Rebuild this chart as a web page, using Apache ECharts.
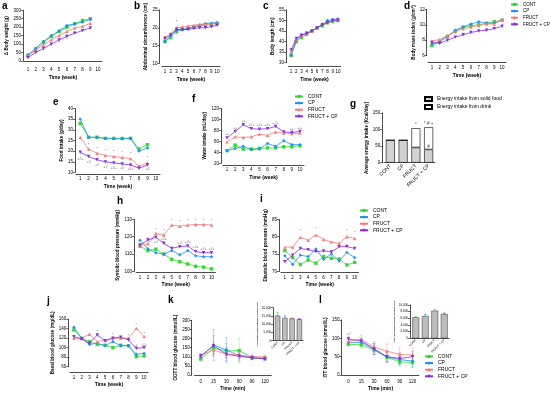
<!DOCTYPE html>
<html><head><meta charset="utf-8">
<script src="https://cdn.jsdelivr.net/npm/echarts@6/dist/echarts.min.js"></script>
<style>html,body{margin:0;padding:0;background:#fff}#c{width:550px;height:393px}</style>
</head><body><div id="c"></div>
<script>
const groups = ['CONT', 'CP', 'FRUCT', 'FRUCT + CP'];
const weeks = ['1','2','3','4','5','6','7','8','9','10'];
const minutes = ['0','15','30','60','90','120'];
const energyNames = ['Energy intake from solid food', 'Energy intake from drink'];

// a  Δ body weight (g)
const bodyWeightGain = [
  [35, 70, 110, 145, 175, 200, 220, 240, 250, null],
  [35, 75, 115, 150, 178, 210, 220, 230, 247, null],
  [30, 65, 95, 125, 150, 175, 195, 205, 223, null],
  [20, 50, 75, 100, 125, 145, 165, 180, 195, null]];
const weightMarks = [[2, 58, '*'], [3, 82, '*'], [4, 106, '*'], [5, 126, '*']];
// b  abdominal circumference (cm)
const abdominal = [
  [16.2, 17.2, 19.0, 19.5, 19.8, 20.3, 20.5, 20.8, 21.0, 21.2],
  [16.0, 17.8, 19.3, 19.5, 19.8, 20.3, 20.7, 21.2, 21.3, 21.5],
  [17.3, 18.3, 20.0, 20.2, 20.5, 20.7, 21.0, 21.0, 21.0, 21.3],
  [17.0, 18.0, 19.5, 19.5, 19.5, 19.8, 20.0, 20.0, 20.3, 20.7]];
const abdominalMarks = [[2, 21.7, '*'], [2, 18.2, '#']];
// c  body length (cm)
const bodyLength = [
  [33.5, 40.0, 42.0, 43.5, 45.0, 46.5, 47.5, 49.0, 49.5, 50.0],
  [33.5, 40.5, 43.0, 44.0, 45.0, 46.5, 48.0, 50.0, 50.5, 50.8],
  [35.0, 41.0, 43.0, 44.0, 45.0, 46.5, 48.5, 49.0, 50.0, 50.5],
  [36.0, 41.5, 43.0, 44.0, 45.0, 46.5, 48.0, 49.0, 50.0, 50.2]];
// d  body mass index
const bmi = [
  [7.3, 7.8, 8.5, 9.2, 9.7, 9.9, 10.0, 10.2, 10.4, 10.6],
  [7.5, 7.9, 8.5, 9.3, 9.7, 10.1, 10.4, 10.2, 10.2, 10.6],
  [7.9, 8.1, 8.6, 9.1, 9.5, 9.7, 9.9, 10.1, 10.1, 10.7],
  [7.7, 7.6, 8.0, 8.4, 8.7, 9.0, 9.2, 9.3, 9.5, 9.8]];
// e  food intake (g/day)
const foodIntake = [
  [33.0, 26.5, 26.5, 26.0, 26.0, 26.0, 26.0, 21.0, 23.0, null],
  [35.0, 26.5, 26.5, 26.0, 25.8, 25.8, 26.0, 20.0, 21.5, null],
  [26.5, 21.0, 19.0, 18.0, 17.5, 17.0, 16.5, 13.0, 14.5, null],
  [19.5, 17.5, 16.0, 15.0, 14.5, 14.0, 13.5, 12.0, 13.5, null]];
const foodMarks = [[1, 23, '*'], [2, 21, '*'], [3, 20, '*'], [4, 19.5, '*'], [5, 19, '*'], [6, 18.5, '*'], [8, 17, '*'],
  [0, 16.3, '+#+'], [1, 15, '+#'], [2, 13.6, '+#'], [3, 12.8, '+#'], [4, 12.2, '+#+'], [5, 12, '+#'], [6, 11.5, '+#+'], [8, 11.5, '+#']];
// f  water intake (mL/day)
const waterIntake = [
  [43, 53, 46, 46, 47, 48, 48, 50, 50, 52],
  [43, 47, 51, 45, 46, 56, 51, 61, 54, 54],
  [59, 68, 67, 68, 73, 71, 77, 75, 74, 75],
  [66, 78, 90, 83, 82, 83, 87, 77, 76, 78]];
const waterMarks = [[0, 73, '++'], [1, 85, '++'], [2, 97, '++'], [3, 90, '+#+'], [4, 89, '+#+'], [5, 90, '+#+'],
  [6, 94, '+#+'], [8, 83, '++'], [9, 85, '++']];
// g  average energy intake (Kcal/day)
const energySolid = [68, 68, 46, 40];
const energyDrink = [0, 0, 58, 67];
const energyMarks = [[2, 113, '*'], [3, 116, '* # +'], [3, 47, '#']];
// h  systolic blood pressure (mmHg)
const systolic = [
  [114.5, 112.0, 112.8, 110.0, 107.0, 105.6, 104.3, 103.0, 102.5, 101.5],
  [118.0, 113.0, 110.8, 110.0, 112.0, 109.6, 112.0, 109.0, 108.5, 108.5],
  [115.0, 116.0, 121.8, 121.0, 126.7, 126.0, 126.7, 127.0, 127.0, 126.7],
  [115.2, 118.1, 119.6, 116.2, 113.3, 114.3, 114.7, 111.4, 110.8, 110.8]];
const systolicMarks = [[1, 118.5, '*'], [2, 124, '*'], [3, 123.3, '*'], [4, 129, '*'], [5, 128.4, '*'], [6, 129, '*'],
  [7, 129.3, '*'], [8, 129.3, '*'], [9, 129, '*'],
  [2, 117, '+#'], [3, 118.5, '+#+'], [5, 116.6, '+#'], [6, 117, '+#+'], [7, 113.8, '+#+'], [8, 113.2, '+#+'], [9, 113, '+#+']];
// i  diastolic blood pressure (mmHg)
const diastolic = [
  [76.0, 74.0, 72.0, 73.3, 72.4, 74.3, 73.8, 73.6, 71.9, 72.6],
  [74.5, 72.0, 74.7, 74.3, 76.5, 73.5, 75.0, 73.0, 75.5, 74.0],
  [77.0, 77.0, 79.8, 79.0, 80.5, 79.2, 78.5, 78.1, 80.0, 79.5],
  [72.8, 74.7, 76.6, 76.3, 75.7, 75.9, 75.6, 77.1, 77.2, 76.6]];
const diastolicMarks = [[2, 81.5, '*'], [4, 82.2, '*'], [8, 81.7, '*'], [9, 81.2, '*']];
// j  basal blood glucose (mg/dL)
const basalGlucose = [
  [137, 119.5, 112.4, 107, 105, 100, 105, 104, 81, 82.6],
  [142.6, 119.5, 107, 109, 104, 112.4, 104, 104, 86, 88],
  [119.5, 120, 128, 112.4, 116, 120, 119.5, 120, 140.4, 123],
  [123, 118, 109, 126.5, 114, 120, 122, 116, 98.5, 100]];
const glucoseMarks = [[3, 132, '*'], [5, 126, '*'], [7, 125, '*'], [8, 147, '*'], [9, 129, '*'], [8, 104, '#'], [9, 106, '+#+']];
// k  OGTT blood glucose (mmol/L)
const ogtt = [
  [88, 147, 132, 134, 95, 92],
  [100, 165, 137, 106, 93, 90],
  [108, 137, 114, 110, 100, 100],
  [104, 160, 114, 103, 95, 88]];
const ogttErr = [
  [8, 30, 40, 68, 10, 8],
  [10, 85, 68, 30, 10, 8],
  [10, 20, 20, 15, 15, 10],
  [10, 55, 35, 15, 10, 8]];
const ogttAuc = [15200, 13800, 13500, 13000];
const ogttAucErr = [2000, 1200, 300, 400];
// l  ITT blood glucose (mmol/L)
const itt = [
  [84, 82, 68, 48, 36, 34],
  [89, 89, 70, 50, 42, 38],
  [92, 97, 76, 65, 56, 54],
  [98, 93, 71, 50, 45, 50]];
const ittErr = [
  [5, 8, 12, 12, 12, 10],
  [6, 8, 15, 15, 15, 18],
  [8, 12, 15, 20, 20, 20],
  [6, 8, 15, 15, 15, 15]];
const ittMarks = [[0, 111, '+#']];
const ittAuc = [6300, 6700, 8300, 7300];
const ittAucErr = [300, 500, 400, 300];

const colors = ['#35d835', '#1f8ff0', '#f47c7c', '#8a2be2'];
const lightColors = ['rgba(53,216,53,0.5)', 'rgba(31,143,240,0.5)', 'rgba(244,124,124,0.55)', 'rgba(138,43,226,0.5)'];
const symbols = ['rect', 'diamond', 'triangle', 'triangle'];
const FONT = 'Liberation Sans, Arial, sans-serif';

const grids = [], xAxes = [], yAxes = [], series = [];
function addPanel(p) {
  const gi = grids.length;
  grids.push({ left: p.left, top: p.top, width: p.width, height: p.height });
  xAxes.push({
    type: 'category', gridIndex: gi, data: p.cats, boundaryGap: true, offset: p.xoff || 0,
    name: p.xname || '', nameLocation: 'middle', nameGap: p.xgap || 10,
    nameTextStyle: { fontSize: 5, fontWeight: 'bold', color: '#000', fontFamily: FONT },
    axisLine: { lineStyle: { color: '#000', width: 0.7 } },
    axisTick: { alignWithLabel: true, length: 2, lineStyle: { color: '#000', width: 0.6 } },
    axisLabel: { fontSize: p.xfs || 4.5, color: '#000', margin: p.xmargin || 2.5, rotate: p.rotate || 0, interval: 0, fontFamily: FONT },
    splitLine: { show: false }
  });
  yAxes.push({
    type: 'value', gridIndex: gi, min: p.ymin, max: p.ymax, interval: p.yint, offset: p.yoff || 0,
    name: p.yname || '', nameLocation: 'middle', nameGap: p.ygap || 10, nameRotate: 90,
    nameTextStyle: { fontSize: p.ynfs || 4.6, fontWeight: 'bold', color: '#000', fontFamily: FONT },
    axisLine: { show: true, lineStyle: { color: '#000', width: 0.7 } },
    axisTick: { show: true, length: 2, lineStyle: { color: '#000', width: 0.6 } },
    axisLabel: { fontSize: p.yfs || 4.5, color: '#000', margin: 2, formatter: p.yfmt, fontFamily: FONT },
    splitLine: { show: false }
  });
  return gi;
}
function errSeries(gi, vals, errs, color, w) {
  const data = [];
  vals.forEach((v, i) => { if (v != null && errs) data.push([i, v - errs[i], v + errs[i]]); });
  return {
    type: 'custom', xAxisIndex: gi, yAxisIndex: gi, silent: true, z: 1, data,
    encode: { x: 0, y: [1, 2] },
    renderItem(params, api) {
      const x = api.value(0);
      const lo = api.coord([x, api.value(1)]);
      const hi = api.coord([x, api.value(2)]);
      const hw = w || 1.5;
      const st = { stroke: color, lineWidth: 0.6 };
      return { type: 'group', children: [
        { type: 'line', shape: { x1: lo[0], y1: lo[1], x2: hi[0], y2: hi[1] }, style: st },
        { type: 'line', shape: { x1: hi[0] - hw, y1: hi[1], x2: hi[0] + hw, y2: hi[1] }, style: st },
        { type: 'line', shape: { x1: lo[0] - hw, y1: lo[1], x2: lo[0] + hw, y2: lo[1] }, style: st }
      ]};
    }
  };
}
function addLines(gi, data, errs) {
  data.forEach((d, k) => {
    series.push({
      type: 'line', name: groups[k], xAxisIndex: gi, yAxisIndex: gi, data: d,
      symbol: symbols[k], symbolSize: 3.4, symbolRotate: k === 3 ? 180 : 0,
      lineStyle: { width: 0.8, color: colors[k] }, itemStyle: { color: colors[k] },
      z: 3 + k, animation: false
    });
    if (errs) series.push(errSeries(gi, d, errs[k], lightColors[k]));
  });
}
function addAucBars(gi, vals, errs) {
  series.push({
    type: 'bar', xAxisIndex: gi, yAxisIndex: gi, barWidth: '72%',
    data: vals.map((v, i) => ({ value: v })),
    itemStyle: { color: '#bdbdbd', borderColor: '#333', borderWidth: 0.5 }, animation: false
  });
  vals.forEach((v, i) => {
    const e = vals.map((_, j) => j === i ? errs[j] : null);
    const vv = vals.map((x, j) => j === i ? x : null);
    series.push(errSeries(gi, vv, e, colors[i], 1.3));
  });
}
function addMarks(gi, marks, fs) {
  series.push({
    type: 'scatter', xAxisIndex: gi, yAxisIndex: gi, symbolSize: 0, silent: true, z: 10,
    data: marks.map(m => ({ value: [m[0], m[1]], label: { formatter: m[2] } })),
    label: { show: true, position: 'inside', fontSize: fs || 3.6, color: '#222', fontFamily: FONT }
  });
}
const commaFmt = v => v.toLocaleString('en-US');

// a
let g = addPanel({ left: 24, top: 10.3, width: 78, height: 50.7, cats: weeks, ymin: 0, ymax: 300, yint: 50,
  yname: 'Δ Body weight (g)', xname: 'Time (week)', xoff: 4, yoff: 1, ygap: 11 });
addLines(g, bodyWeightGain);
addMarks(g, weightMarks);
// b
g = addPanel({ left: 162, top: 10, width: 58, height: 53.3, cats: weeks, ymin: 10, ymax: 25, yint: 5,
  yname: 'Abdominal circumference (cm)', xname: 'Time (week)', xoff: 3.4, yoff: 2.5, ygap: 9 });
addLines(g, abdominal);
addMarks(g, abdominalMarks);
// c
g = addPanel({ left: 288.5, top: 10, width: 52, height: 52.7, cats: weeks, ymin: 30, ymax: 55, yint: 5,
  yname: 'Body length (cm)', xname: 'Time (week)', xoff: 4, yoff: 2.4, ygap: 9 });
addLines(g, bodyLength);
// d
g = addPanel({ left: 428, top: 9.3, width: 78, height: 46.4, cats: weeks, ymin: 6, ymax: 12, yint: 2,
  yname: 'Body mass index (g/cm²)', xname: 'Time (week)', xoff: 7, yoff: 1.3, ygap: 8 });
addLines(g, bmi);
// e
g = addPanel({ left: 76, top: 108.5, width: 84, height: 64, cats: weeks, ymin: 10, ymax: 40, yint: 5,
  yname: 'Food intake (g/day)', xname: 'Time (week)', xoff: 1.5, yoff: 1, ygap: 8 });
addLines(g, foodIntake);
addMarks(g, foodMarks);
// f
g = addPanel({ left: 223, top: 108.3, width: 81, height: 55, cats: weeks, ymin: 20, ymax: 120, yint: 20,
  yname: 'Water intake (mL/day)', xname: 'Time (week)', xoff: 1.5, yoff: 2, ygap: 10 });
addLines(g, waterIntake);
addMarks(g, waterMarks);
// g
g = addPanel({ left: 384, top: 113, width: 51, height: 49.7, cats: groups, ymin: 0, ymax: 150, yint: 50,
  yname: 'Average energy intake (Kcal/day)', xname: '', rotate: 45, xfs: 5, yoff: 1.7, ygap: 10 });
series.push({ type: 'bar', name: energyNames[0], stack: 'e', xAxisIndex: g, yAxisIndex: g, barWidth: 9, data: energySolid,
  itemStyle: { color: '#d2d2d2', borderColor: '#000', borderWidth: 0.6 }, animation: false });
series.push({ type: 'bar', name: energyNames[1], stack: 'e', xAxisIndex: g, yAxisIndex: g, barWidth: 9, data: energyDrink,
  itemStyle: { color: '#ffffff', borderColor: '#000', borderWidth: 0.6 }, animation: false });
addMarks(g, energyMarks, 4.5);
// h
g = addPanel({ left: 136, top: 219.3, width: 79.5, height: 52.2, cats: weeks, ymin: 100, ymax: 130, yint: 10,
  yname: 'Systolic blood pressure (mmHg)', xname: 'Time (week)', xoff: 1, yoff: 2, ygap: 10 });
addLines(g, systolic);
addMarks(g, systolicMarks);
// i
g = addPanel({ left: 281, top: 219.3, width: 77.5, height: 52.2, cats: weeks, ymin: 70, ymax: 85, yint: 5,
  yname: 'Diastolic blood pressure (mmHg)', xname: 'Time (week)', xoff: 1, yoff: 2, ygap: 8 });
addLines(g, diastolic);
addMarks(g, diastolicMarks);
// j
g = addPanel({ left: 70, top: 319, width: 78, height: 47.7, cats: weeks, ymin: 60, ymax: 160, yint: 20,
  yname: 'Basal blood glucose (mg/dL)', xname: 'Time (week)', xoff: 5.6, yoff: 1.7, ygap: 10 });
addLines(g, basalGlucose);
addMarks(g, glucoseMarks);
// k
g = addPanel({ left: 194.3, top: 320.3, width: 77, height: 54.7, cats: minutes, ymin: 0, ymax: 300, yint: 50,
  yname: 'OGTT blood glucose (mmol/L)', xname: 'Time (min)', xoff: 1.5, yoff: 2.6, ygap: 10 });
addLines(g, ogtt, ogttErr);
// k inset
g = addPanel({ left: 274, top: 307.7, width: 29, height: 33, cats: groups, ymin: 0, ymax: 20000, yint: 5000,
  yname: 'AUC OGTT blood glucose (mmol/L·min)', ynfs: 2.4, yfs: 3, xfs: 3, rotate: 45, yfmt: commaFmt, yoff: 1, ygap: 11, xmargin: 1.5 });
addAucBars(g, ogttAuc, ogttAucErr);
// l
g = addPanel({ left: 342, top: 320, width: 77, height: 55, cats: minutes, ymin: 0, ymax: 150, yint: 50,
  yname: 'ITT blood glucose (mmol/L)', xname: 'Time (min)', xoff: 1.5, yoff: 0.5, ygap: 10 });
addLines(g, itt, ittErr);
addMarks(g, ittMarks);
// l inset
g = addPanel({ left: 411, top: 305, width: 38, height: 33.3, cats: groups, ymin: 0, ymax: 10000, yint: 2000,
  yname: 'AUC ITT blood glucose (mmol/L·min)', ynfs: 2.4, yfs: 3, xfs: 3, rotate: 45, yfmt: commaFmt, yoff: 1, ygap: 10, xmargin: 1.5 });
addAucBars(g, ittAuc, ittAucErr);

function groupLegend(left, top, fs, iw) {
  return { data: groups, left, top, orient: 'vertical', itemGap: 1.6, itemWidth: iw || 8, itemHeight: 4, padding: 0,
    textStyle: { fontSize: fs || 5, color: '#000', fontFamily: FONT }, selectedMode: false };
}
const letters = [['a', 5, 7], ['b', 137, 7], ['c', 266, 7], ['d', 407, 7], ['e', 56, 103], ['f', 195, 100],
  ['g', 353, 105], ['h', 120, 202], ['i', 263, 200], ['j', 50, 302], ['k', 171, 301], ['l', 322, 301]];

const chart = echarts.init(document.getElementById('c'), null, { renderer: 'canvas' });
chart.setOption({
  animation: false,
  textStyle: { fontFamily: FONT },
  grid: grids, xAxis: xAxes, yAxis: yAxes, series,
  legend: [
    groupLegend(510, 2, 4.5, 7), groupLegend(294, 94), groupLegend(359, 208), groupLegend(424, 354),
    { data: energyNames, left: 424, top: 96, orient: 'vertical', itemGap: 2, itemWidth: 7, itemHeight: 4, padding: 0,
      icon: 'rect', textStyle: { fontSize: 5, color: '#000', fontFamily: FONT }, selectedMode: false }
  ],
  graphic: letters.map(([t, x, y]) => ({ type: 'text', left: x - 3, top: y - 6,
    style: { text: t, fontSize: 10, fontWeight: 'bold', fill: '#000', fontFamily: FONT } }))
});
</script></body></html>
